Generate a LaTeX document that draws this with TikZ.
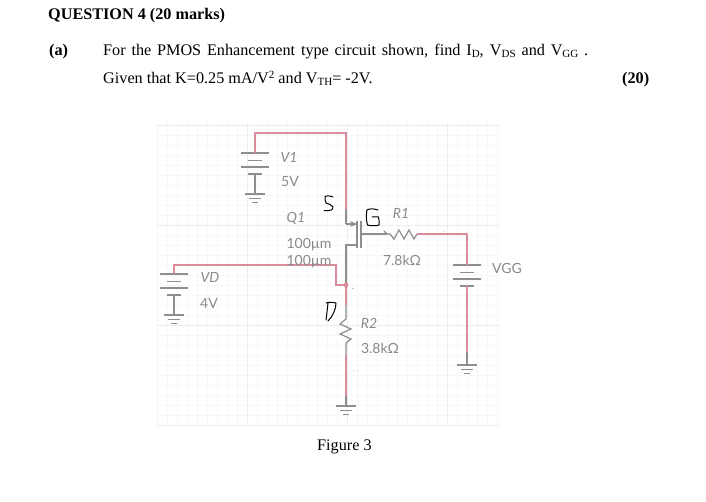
\documentclass[tikz,border=0pt]{standalone}
\usepackage{fontspec}
\setmainfont{Liberation Serif}
\newfontfamily\cadfont{Lato}
\usetikzlibrary{arrows.meta}
\definecolor{wiregray}{HTML}{8E8E8E}
\definecolor{wirered}{HTML}{DA8C9C}
\definecolor{labelgray}{HTML}{8A8A8A}
\definecolor{gridminor}{HTML}{F7F7F7}
\definecolor{gridmajor}{HTML}{EDEDED}
\newcommand{\subs}[1]{\raisebox{-1.5pt}{\fontsize{11}{11}\selectfont #1}}
\newcommand{\sups}[1]{\raisebox{5pt}{\fontsize{11}{11}\selectfont #1}}
\tikzset{
  x=1pt,y=-1pt,
  doc/.style={anchor=base west,inner sep=0pt,font=\fontsize{16.2}{18}\selectfont,text=black},
  docb/.style={doc,font=\fontsize{16.2}{18}\selectfont\bfseries},
  cad/.style={anchor=center,inner sep=0pt,text=labelgray,font=\cadfont\fontsize{14}{15}\selectfont},
  cadi/.style={cad,font=\cadfont\itshape\fontsize{14}{15}\selectfont},
  gw/.style={draw=wiregray,line width=1.2pt},
  rw/.style={draw=wirered,line width=1.3pt},
  ink/.style={draw=black,line width=1pt,line cap=round,line join=round},
  gnd/.pic={
    \draw[gw] (-10,0) -- (10,0);
    \draw[gw] (-6,4.5) -- (6,4.5);
    \draw[gw] (-3,8.5) -- (3,8.5);
  },
  batt/.pic={
    \draw[gw] (-14,0) -- (14,0);
    \draw[gw] (-7,7.5) -- (7,7.5);
    \draw[gw] (-14,14) -- (14,14);
    \draw[gw] (-7,21) -- (7,21);
  }
}
\begin{document}
\begin{tikzpicture}
\useasboundingbox (0,0) rectangle (706,502);
\fill[white] (0,0) rectangle (706,502);
% grid
\foreach \x in {157,167,...,497} \draw[gridminor,line width=0.6pt] (\x,123) -- (\x,425);
\foreach \y in {125,135,...,425} \draw[gridminor,line width=0.6pt] (157,\y) -- (500,\y);
\foreach \x in {247,347,447} \draw[gridmajor,line width=0.8pt] (\x,123) -- (\x,425);
\foreach \y in {125,225,325,425} \draw[gridmajor,line width=0.8pt] (157,\y) -- (500,\y);
% document text
\node[docb] (title) at (48,20) {QUESTION 4 (20 marks)};
\node[docb] (parta) at (49,56) {(a)};
\node[doc] (line1) at (103,56) {\makebox[485pt][s]{For the PMOS Enhancement type circuit shown, find I\subs{D}, V\subs{DS} and V\subs{GG} .}};
\node[doc] (line2) at (103,84) {Given that K=0.25 mA/V\sups{2} and V\subs{TH}= -2V.};
\node[docb] (marks) at (622,84) {(20)};
\node[doc] (fig) at (317,450.5) {Figure 3};
% coordinates
\coordinate (v1top) at (255,153);
\coordinate (v1corner) at (255,133);
\coordinate (tr) at (346,133);
\coordinate (srcred) at (346,210);
\coordinate (src) at (346,224);
\coordinate (srcch) at (357,224);
\coordinate (drn) at (346,245);
\coordinate (drnch) at (357,245);
\coordinate (gate) at (361,234);
\coordinate (r1a) at (387,234);
\coordinate (r1b) at (417,234);
\coordinate (vggc) at (467,234);
\coordinate (vggt) at (467,265);
\coordinate (vggb) at (467,286);
\coordinate (vgggr) at (467,365);
\coordinate (vggmid) at (467,352);
\coordinate (j) at (346,285);
\coordinate (jl) at (336,285);
\coordinate (jt) at (336,265);
\coordinate (vdc) at (174,265);
\coordinate (vdt) at (174,274);
\coordinate (r2a) at (346,316);
\coordinate (r2b) at (346,346);
\coordinate (r2red) at (346,355);
\coordinate (r2red2) at (346,396);
\coordinate (gr) at (346,406);
% batteries and grounds
\pic at (255,153) {batt};
\draw[gw] (255,174) -- (255,194);
\pic at (255,194) {gnd};
\pic at (174,274) {batt};
\draw[gw] (174,295) -- (174,315);
\pic at (174,315) {gnd};
\pic at (467,265) {batt};
\pic at (467,365) {gnd};
\pic at (346,406) {gnd};
% wires
\draw[rw] (v1top) -- (v1corner) -- (tr) -- (srcred);
\draw[gw] (srcred) -- (src);
\draw[gw,-{Stealth[length=7pt,width=6pt]}] (src) -- (srcch);
\draw[gw] (j) -- (drn) -- (drnch);
\draw[gw,line width=1.4pt] (357,221) -- (357,248);
\draw[gw,line width=1.4pt] (361,221) -- (361,248);
\draw[gw] (gate) -- (r1a);
\draw[gw] (r1a) -- ++(-3,-3) ++(3,3) -- ++(3,0) -- ++(4,5) -- ++(5,-9) -- ++(5,9) -- ++(5,-9) -- ++(5,9) -- ++(3,-5);
\draw[rw] (r1b) -- (vggc) -- (vggt);
\draw[rw] (vggb) -- (vggmid);
\draw[gw] (vggmid) -- (vgggr);
\draw[rw] (vdt) -- (vdc) -- (jt) -- (jl) -- (j);
\draw[rw] (j) -- (346,305);
\draw[gw] (346,305) -- (r2a) -- ++(0,3) -- ++(-6,5) -- ++(11,5) -- ++(-11,5) -- ++(11,5) -- ++(-5,4) -- (r2b) -- (r2red);
\draw[rw] (r2red) -- (r2red2);
\draw[gw] (r2red2) -- (gr);
\fill[wirered] (j) circle (2.4pt);
% specks
\fill[wiregray] (353,288.5) circle (0.6pt) (444,231) circle (0.5pt) (353,371) circle (0.5pt) (358,371) circle (0.5pt);
% labels
\node[cadi] (lv1) at (289,157) {V1};
\node[cad] (l5v) at (290,182) {5V};
\node[cadi] (lq1) at (296,218) {Q1};
\node[cad] (lw) at (309,245) {100µm};
\node[cad] (ll) at (309,262) {100µm};
\node[cadi] (lvd) at (210,277) {VD};
\node[cad] (l4v) at (209,303) {4V};
\node[cadi] (lr1) at (401,213) {R1};
\node[cad] (l78) at (402,260) {7.8kΩ};
\node[cadi] (lr2) at (369,323) {R2};
\node[cad] (l38) at (380,348) {3.8kΩ};
\node[cad] (lvgg) at (507,268) {VGG};
% handwritten terminal marks
\draw[ink] (333,197) .. controls (329,195.5) and (326,195.5) .. (325,196.5) .. controls (325,199) and (325,201) .. (326,203) .. controls (329,204) and (332,205) .. (333,207) .. controls (333,210) and (331,211) .. (324,210.5);
\draw[ink] (378,210) .. controls (374,208.5) and (369,208.5) .. (367,210) .. controls (366,214) and (366,220) .. (367.5,225) .. controls (371,226) and (376,226) .. (379,225) .. controls (379.5,222) and (379,219) .. (378.5,217) -- (372,217);
\draw[ink] (326,303) .. controls (330,302) and (333,302) .. (336,303) .. controls (336,309) and (333,316) .. (328,321);
\draw[ink] (328,303) -- (327,312) -- (326,320);
\end{tikzpicture}
\end{document}
